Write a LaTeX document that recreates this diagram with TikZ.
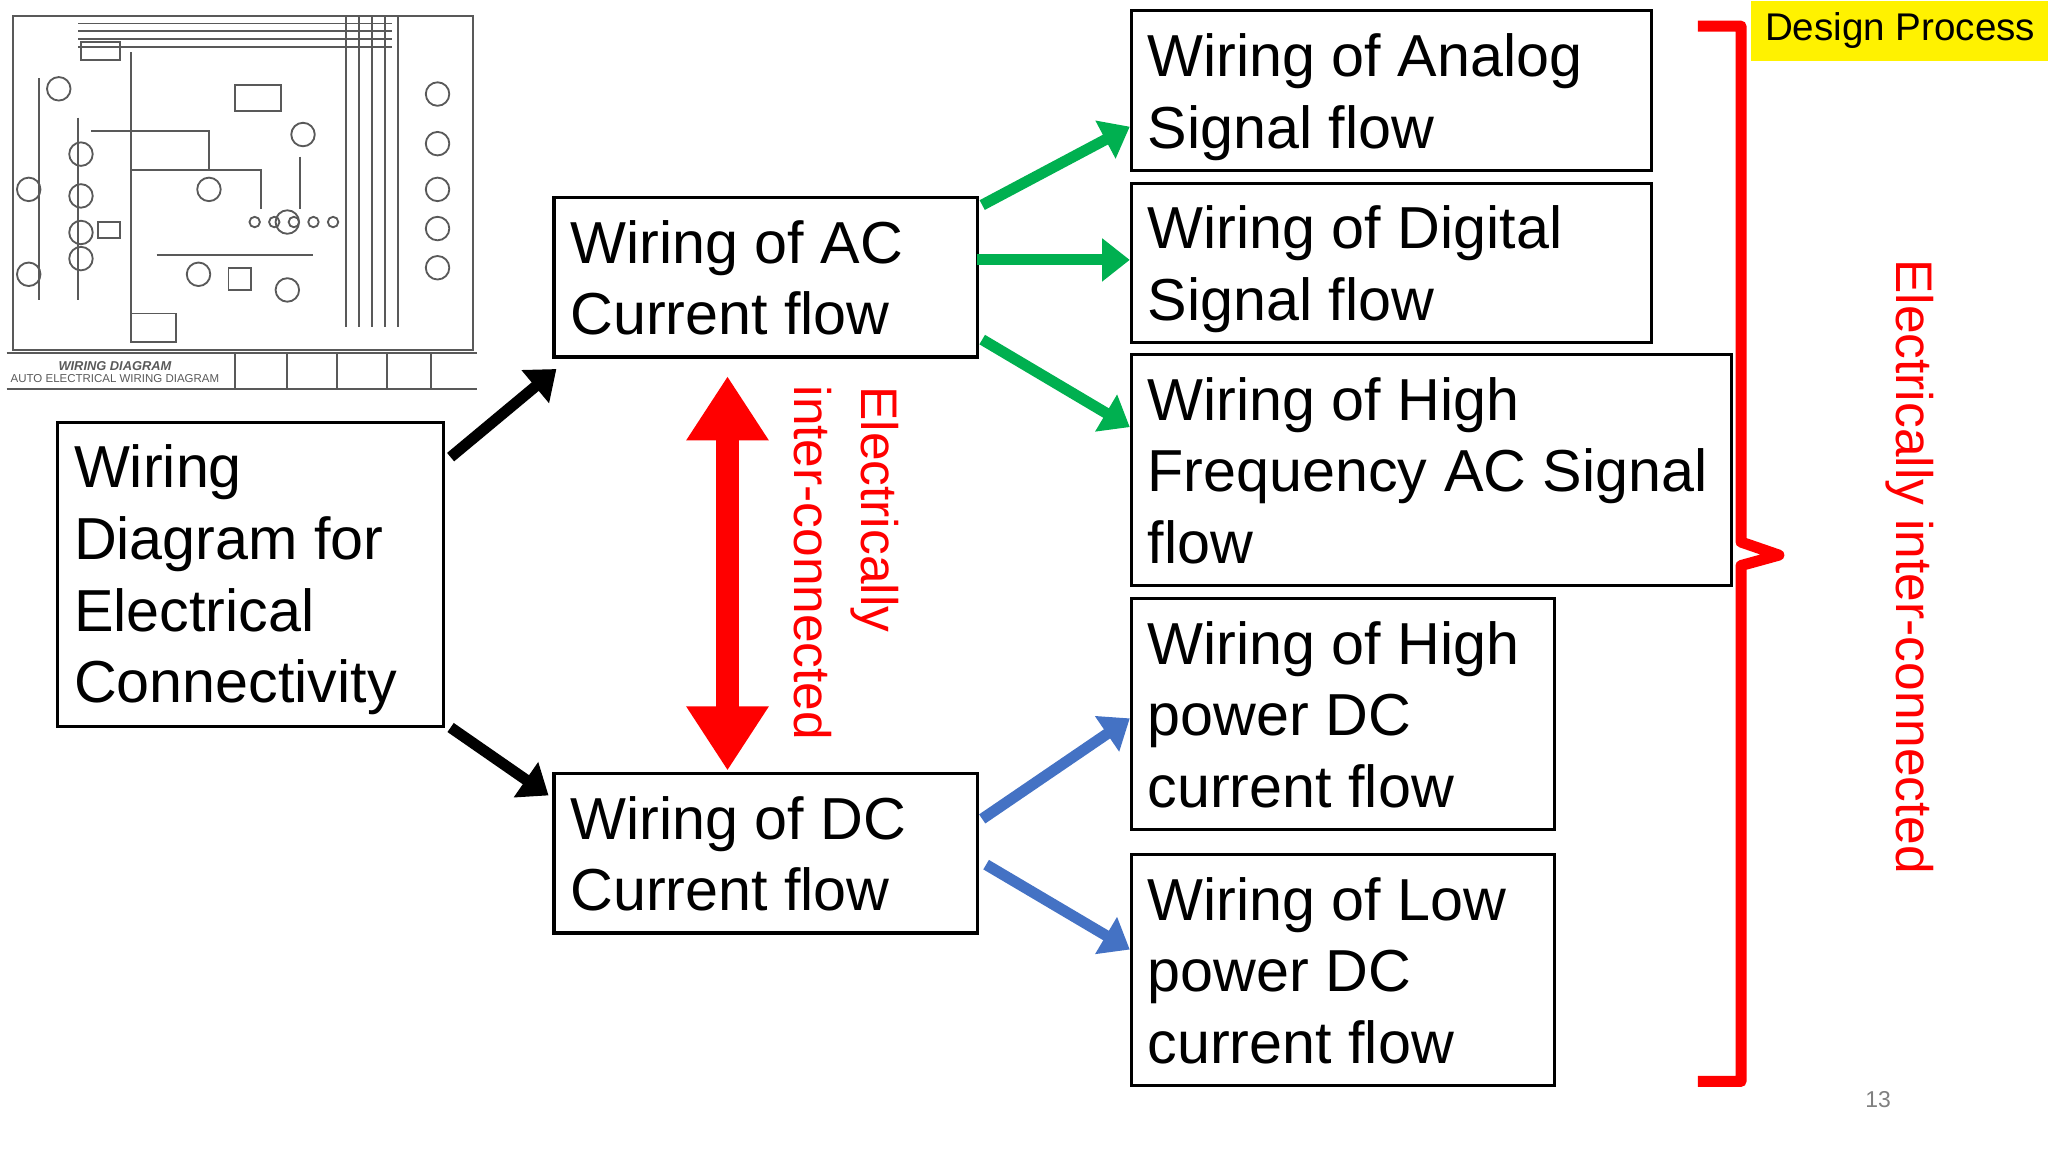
\documentclass[tikz,border=0pt]{standalone}
\usepackage{fontspec}
\setmainfont{Liberation Sans}
\usetikzlibrary{arrows.meta}
\definecolor{myblue}{HTML}{4472C4}
\definecolor{mygreen}{HTML}{00B050}
\begin{document}
\begin{tikzpicture}[x=0.01cm,y=-0.01cm,
 box/.style={draw,line width=0.7pt,anchor=north west,inner sep=0pt},
 lbl/.style={anchor=north west,align=left,inner sep=0pt,font=\fontsize{12.9pt}{15.6pt}\selectfont},
 arr/.style={line width=2.4pt,-{Triangle[length=6pt,width=9pt]}},
 rtxt/.style={red,rotate=-90,font=\fontsize{11.2pt}{13pt}\selectfont,inner sep=0pt},
 sch/.style={gray!70!black,line width=0.4pt}]
\useasboundingbox (0,0) rectangle (1568,882);
% schematic
\begin{scope}[sch]
\draw (10,12) rectangle (362,268);
\foreach \y in {18,24,30,36} \draw (60,\y) -- (300,\y);
\foreach \x in {265,275,285,295,305} \draw (\x,12) -- (\x,250);
\draw (30,60) -- (30,230) (60,90)--(60,230) (100,40)--(100,250);
\foreach \p in {(45,68),(62,118),(62,150),(62,178),(62,198),(22,145),(22,210),(160,145),(232,103),(220,170),(152,210),(220,222),(335,72),(335,110),(335,145),(335,175),(335,205)} \draw \p circle (9);
\foreach \x in {195,210,225,240,255} \draw (\x,170) circle (4);
\draw (100,240) rectangle (135,262) (175,205) rectangle (192,222) (75,170) rectangle (92,182) (180,65) rectangle (215,85) (62,32) rectangle (92,46);
\draw (70,100)--(160,100)--(160,130) (100,130)--(200,130)--(200,160) (120,195)--(240,195) (230,120)--(230,160);
\draw (5,270)--(365,270) (5,298)--(365,298);
\foreach \x in {180,220,258,296,330} \draw (\x,270)--(\x,298);
\node[font=\fontsize{2.8pt}{3pt}\selectfont\bfseries\itshape,inner sep=0pt] (t1) at (88,280) {WIRING DIAGRAM};
\node[font=\fontsize{2.5pt}{3pt}\selectfont,inner sep=0pt] (t2) at (88,290) {AUTO ELECTRICAL WIRING DIAGRAM};
\end{scope}
% boxes
\node[box,minimum width=2.95cm,minimum height=2.33cm] (wd) at (43,322) {};
\node[lbl] at (56,340) {Wiring\\Diagram for\\Electrical\\Connectivity};
\node[box,minimum width=3.24cm,minimum height=1.22cm] (ac) at (423,150) {};
\node[lbl] at (436,168) {Wiring of AC\\Current flow};
\node[box,minimum width=3.24cm,minimum height=1.22cm] (dc) at (423,591) {};
\node[lbl] at (436,609) {Wiring of DC\\Current flow};
\node[box,minimum width=3.98cm,minimum height=1.22cm] (an) at (865,7) {};
\node[lbl] at (878,25) {Wiring of Analog\\Signal flow};
\node[box,minimum width=3.98cm,minimum height=1.22cm] (dg) at (865,139) {};
\node[lbl] at (878,157) {Wiring of Digital\\Signal flow};
\node[box,minimum width=4.59cm,minimum height=1.77cm] (hf) at (865,270) {};
\node[lbl] at (878,288) {Wiring of High\\Frequency AC Signal\\flow};
\node[box,minimum width=3.24cm,minimum height=1.77cm] (hp) at (865,457) {};
\node[lbl] at (878,475) {Wiring of High\\power DC\\current flow};
\node[box,minimum width=3.24cm,minimum height=1.77cm] (lp) at (865,653) {};
\node[lbl] at (878,671) {Wiring of Low\\power DC\\current flow};
% arrows
\coordinate (b1) at (345,350); \coordinate (b2) at (345,557);
\coordinate (g1) at (752,157); \coordinate (g2) at (748,199); \coordinate (g3) at (752,260);
\coordinate (u1) at (752,627); \coordinate (u2) at (755,662);
\coordinate (r1) at (557,288); \coordinate (r2) at (557,590);
\draw[arr] (b1) -- ([shift={(3,8)}]ac.south west);
\draw[arr] (b2) -- ([shift={(-3,18)}]dc.north west);
\draw[arr,mygreen] (g1) -- (an.west|-0,97);
\draw[arr,mygreen] (g2) -- (dg.west|-0,199);
\draw[arr,mygreen] (g3) -- (hf.west|-0,327);
\draw[arr,myblue] (u1) -- (hp.west|-0,550);
\draw[arr,myblue] (u2) -- (lp.west|-0,727);
\draw[red,line width=5pt,{Triangle[length=14pt,width=17pt]}-{Triangle[length=14pt,width=17pt]}] (r1) -- (r2);
\node[rtxt] (e1) at (670,390) {Electrically};
\node[rtxt] (e2) at (622,431) {inter-connected};
% brace
\draw[red,line width=2.4pt,line join=round] (1300,20)--(1333,20)--(1333,415)--(1362,425)--(1333,433)--(1333,828)--(1300,828);
\node[rtxt] (e3) at (1462,434) {Electrically inter-connected};
\node[fill=yellow,anchor=north west,minimum width=2.28cm,minimum height=0.46cm,inner sep=0pt,font=\fontsize{8.4pt}{10pt}\selectfont] (dp) at (1340,0) {Design Process};
\node[gray,font=\fontsize{5pt}{6pt}\selectfont] (pg) at (1438,842) {13};
\end{tikzpicture}
\end{document}
